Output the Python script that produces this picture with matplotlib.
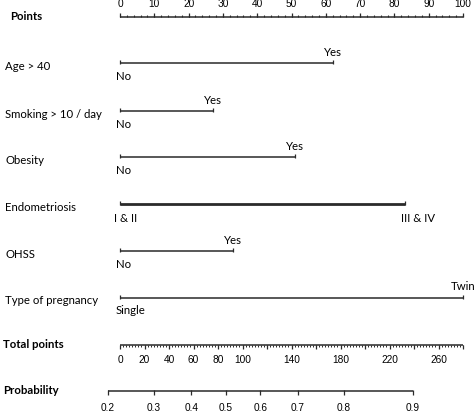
import numpy as np
import matplotlib
matplotlib.use("Agg")
import matplotlib.pyplot as plt

# ---------------- data ----------------
variables = ["Age > 40", "Smoking > 10 / day", "Obesity", "Endometriosis", "OHSS", "Type of pregnancy"]
level_low = ["No", "No", "No", "I & II", "No", "Single"]
level_high = ["Yes", "Yes", "Yes", "III & IV", "Yes", "Twin"]
points_high = [62, 27, 51, 83, 33, 100]          # points for the high level (low level = 0)

points_ticks = list(range(0, 101, 10))
total_max = 280
total_labels = [0, 20, 40, 60, 80, 100, 140, 180, 220, 260]
prob_ticks = [0.2, 0.3, 0.4, 0.5, 0.6, 0.7, 0.8, 0.9]
lp_intercept_tp = 86.5    # total points at probability 0.5
lp_slope_tp = 69.4        # total points per logit unit

# ---------------- layout ----------------
W, H = 474, 412
fig = plt.figure(figsize=(W / 100, H / 100), dpi=100)
ax = fig.add_axes([0, 0, 1, 1])
px0, pxs = 120.0, 3.43          # pixel of 0 points, pixels per point
ax.set_xlim(-px0 / pxs, (W - px0) / pxs)
ax.set_ylim(H, 0)
ax.axis("off")

col = "#2a2a2a"
lab_font = ["Lato", "DejaVu Sans"]
num_font = ["Liberation Sans", "DejaVu Sans"]
px = 1 / pxs  # one pixel in x data units
fs_lab = 8.2
fs_num = 7.3

# Points axis
y_pts = 17
ax.text(10 * px - px0 / pxs, y_pts - 1, "Points", family=lab_font, weight="bold", fontsize=fs_lab,
        ha="left", va="center", color="black")
ax.plot([0, 100], [y_pts, y_pts], color=col, lw=1.1, solid_capstyle="butt")
minor = np.arange(0, 101, 2)
ax.vlines(minor, y_pts - 2.2, y_pts, color=col, lw=0.8)
ax.vlines(points_ticks, y_pts - 4, y_pts, color=col, lw=0.9)
for t in points_ticks:
    ax.text(t, y_pts - 8, str(t), family=num_font, fontsize=fs_num, ha="center", va="bottom", color="black")

# Variable rows
row_y = [63, 111, 157, 204, 251, 298]
for i, (name, lo, hi, ph, y) in enumerate(zip(variables, level_low, level_high, points_high, row_y)):
    lw = 2.0 if name == "Endometriosis" else 1.1
    ax.text(-px0 / pxs + 5 * px, y + 3, name, family=lab_font, fontsize=fs_lab, ha="left", va="center", color="black")
    ax.plot([0, ph], [y, y], color=col, lw=lw, solid_capstyle="butt")
    ax.vlines([0, ph], y - 3, y + 0.5, color=col, lw=0.9)
    if name == "Endometriosis":
        ax.text(-6 * px, y + 14, lo, family=lab_font, fontsize=fs_lab, ha="left", va="center", color="black")
        ax.text(ph - 4 * px, y + 14, hi, family=lab_font, fontsize=fs_lab, ha="left", va="center", color="black")
    else:
        ax.text(-4 * px, y + 13, lo, family=lab_font, fontsize=fs_lab, ha="left", va="center", color="black")
        ax.text(ph, y - 11, hi, family=lab_font, fontsize=fs_lab, ha="center", va="center", color="black")

# Total points axis
sc = 100.0 / total_max
y_tot = 345
ax.text(-px0 / pxs + 3 * px, y_tot, "Total points", family=lab_font, weight="bold", fontsize=fs_lab,
        ha="left", va="center", color="black")
ax.plot([0, total_max * sc], [y_tot, y_tot], color=col, lw=1.1, solid_capstyle="butt")
tminor = np.arange(0, total_max + 0.1, 2.5)
ax.vlines(tminor * sc, y_tot, y_tot + 2.2, color=col, lw=0.7)
tmajor = np.arange(0, total_max + 1, 20)
ax.vlines(tmajor * sc, y_tot, y_tot + 4, color=col, lw=0.9)
for t in total_labels:
    ax.text(t * sc, y_tot + 10, str(t), family=num_font, fontsize=fs_num, ha="center", va="top", color="black")

# Probability axis
y_prob = 391
ax.text(-px0 / pxs + 3 * px, y_prob, "Probability", family=lab_font, weight="bold", fontsize=fs_lab,
        ha="left", va="center", color="black")
pt = np.array(prob_ticks)
tp = lp_intercept_tp + lp_slope_tp * np.log(pt / (1 - pt))
xp = tp * sc
ax.plot([xp[0], xp[-1]], [y_prob, y_prob], color=col, lw=1.1, solid_capstyle="butt")
ax.vlines(xp, y_prob - 1, y_prob + 3.5, color=col, lw=0.9)
for x, p in zip(xp, prob_ticks):
    ax.text(x, y_prob + 12, f"{p:.1f}", family=num_font, fontsize=fs_num, ha="center", va="top", color="black")

fig.savefig("out.png", dpi=100)
